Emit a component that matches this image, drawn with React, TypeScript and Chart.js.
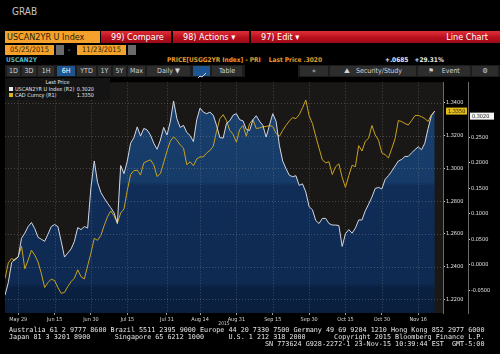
import React, { useEffect, useRef } from "react";
import { Chart, registerables } from "chart.js";

Chart.register(...registerables);

// Business-day index of each x-axis tick (0 = Mon 25 May 2015, 130 = Mon 23 Nov 2015)
const tickDays = [4, 15, 26, 37, 49, 59, 70, 81, 92, 103, 114, 125];
const tickLabels = ["May 29", "Jun 15", "Jun 30", "Jul 15", "Jul 31", "Aug 14", "Aug 31", "Sep 15", "Sep 30", "Oct 15", "Oct 30", "Nov 16"];

// R1 axis (CAD Curncy) and R2 axis (USCAN2YR U Index) tick values
const cadTicks = [1.22, 1.24, 1.26, 1.28, 1.3, 1.32, 1.34];
const spreadTicks = [-0.05, 0, 0.05, 0.1, 0.15, 0.2, 0.25];

// USCAN2YR U Index, daily (R2)
const uscan2y = [
  -0.06, -0.035, 0.004, 0.011, 0.015, 0.052, 0.062, 0.075, 0.083, 0.071,
  0.054, 0.05, 0.046, 0.06, 0.075, 0.079, 0.075, 0.046, 0.015, 0.023,
  0.031, 0.046, 0.073, 0.069, 0.075, 0.072, 0.152, 0.204, 0.162, 0.142,
  0.131, 0.121, 0.112, 0.102, 0.081, 0.195, 0.179, 0.204, 0.239, 0.25,
  0.271, 0.253, 0.268, 0.265, 0.255, 0.239, 0.227, 0.245, 0.27, 0.255,
  0.281, 0.322, 0.287, 0.27, 0.274, 0.26, 0.254, 0.242, 0.285, 0.308,
  0.3, 0.297, 0.3, 0.294, 0.274, 0.25, 0.249, 0.278, 0.283, 0.294,
  0.297, 0.285, 0.283, 0.266, 0.264, 0.285, 0.293, 0.282, 0.274, 0.251,
  0.274, 0.297, 0.282, 0.235, 0.204, 0.189, 0.176, 0.173, 0.175, 0.156,
  0.159, 0.143, 0.114, 0.108, 0.087, 0.081, 0.091, 0.091, 0.081, 0.078,
  0.078, 0.077, 0.036, 0.061, 0.069, 0.062, 0.072, 0.088, 0.088, 0.106,
  0.119, 0.133, 0.15, 0.152, 0.149, 0.168, 0.175, 0.184, 0.194, 0.204,
  0.207, 0.213, 0.213, 0.22, 0.226, 0.232, 0.226, 0.239, 0.268, 0.293,
  0.302,
];

// CAD Curncy, daily (R1)
const cadCurncy = [
  1.2326, 1.2422, 1.2449, 1.2437, 1.2461, 1.2524, 1.2386, 1.244, 1.25, 1.247,
  1.2428, 1.2356, 1.2272, 1.2302, 1.2323, 1.2314, 1.2272, 1.2236, 1.2242, 1.2278,
  1.2308, 1.2329, 1.238, 1.2338, 1.2324, 1.2404, 1.2482, 1.2572, 1.256, 1.259,
  1.265, 1.2704, 1.274, 1.271, 1.2665, 1.2728, 1.2752, 1.2866, 1.2962, 1.2986,
  1.2989, 1.2959, 1.3034, 1.3044, 1.3052, 1.3022, 1.295, 1.2968, 1.3034, 1.3106,
  1.3166, 1.3193, 1.3172, 1.3144, 1.3124, 1.3022, 1.304, 1.3016, 1.3058, 1.307,
  1.307, 1.3094, 1.3109, 1.3136, 1.3226, 1.3304, 1.3328, 1.3292, 1.3232, 1.3208,
  1.316, 1.3238, 1.3262, 1.3196, 1.3274, 1.3298, 1.3244, 1.3247, 1.3254, 1.3256,
  1.3262, 1.3256, 1.3214, 1.3196, 1.3232, 1.3262, 1.3289, 1.331, 1.3304, 1.3328,
  1.337, 1.3418, 1.3322, 1.3274, 1.3196, 1.3124, 1.3052, 1.3034, 1.304, 1.2962,
  1.301, 1.3028, 1.2944, 1.2884, 1.2956, 1.3019, 1.301, 1.3139, 1.3106, 1.3166,
  1.3184, 1.3262, 1.3204, 1.3172, 1.3094, 1.3084, 1.3064, 1.3121, 1.3181, 1.3292,
  1.3286, 1.3274, 1.3265, 1.3292, 1.3322, 1.3324, 1.3316, 1.3304, 1.3286, 1.3328,
  1.335,
];

const SANS = '"DejaVu Sans Condensed", "DejaVu Sans", "Liberation Sans", sans-serif';
const MONO = '"DejaVu Sans Mono", "Liberation Mono", monospace';

const panelPlugin = {
  id: "bbPanel",
  beforeDraw(chart: any) {
    const { ctx, chartArea: ca, width, height } = chart;
    ctx.save();
    ctx.fillStyle = "#000";
    ctx.fillRect(0, 0, width, height);
    ctx.fillStyle = "#1a1816";
    ctx.fillRect(ca.left, ca.top, ca.right - ca.left, ca.bottom - ca.top);
    ctx.restore();
  },
};

const gridPlugin = {
  id: "bbGrid",
  beforeDatasetsDraw(chart: any) {
    const { ctx, chartArea: ca, scales } = chart;
    ctx.save();
    ctx.strokeStyle = "rgba(150,150,150,0.38)";
    ctx.lineWidth = 1;
    ctx.setLineDash([1, 2]);
    scales.x.ticks.forEach((t: any) => {
      const px = Math.round(scales.x.getPixelForValue(t.value)) + 0.5;
      ctx.beginPath();
      ctx.moveTo(px, ca.top);
      ctx.lineTo(px, ca.bottom);
      ctx.stroke();
    });
    scales.y.ticks.forEach((t: any) => {
      const py = Math.round(scales.y.getPixelForValue(t.value)) + 0.5;
      ctx.beginPath();
      ctx.moveTo(ca.left, py);
      ctx.lineTo(ca.right, py);
      ctx.stroke();
    });
    ctx.restore();
  },
};

const lastBoxPlugin = {
  id: "bbLast",
  afterDraw(chart: any) {
    const { ctx, scales } = chart;
    const cadLast = cadCurncy[cadCurncy.length - 1];
    const spLast = uscan2y[uscan2y.length - 1];
    const y1 = scales.y.getPixelForValue(cadLast);
    const y2 = scales.y2.getPixelForValue(spLast) + 5;
    ctx.save();
    ctx.font = `5.5px ${SANS}`;
    ctx.textBaseline = "middle";
    ctx.fillStyle = "#e2bc1c";
    ctx.fillRect(scales.y.left + 3, y1 - 3.5, 21, 7);
    ctx.fillStyle = "#1a1a1a";
    ctx.fillText(cadLast.toFixed(4), scales.y.left + 5, y1 + 0.5);
    ctx.fillStyle = "#f2f2f2";
    ctx.fillRect(scales.y2.left + 2, y2 - 3.5, 24, 7);
    ctx.fillStyle = "#1a1a1a";
    ctx.fillText(spLast.toFixed(4), scales.y2.left + 4, y2 + 0.5);
    ctx.restore();
  },
};

function ChartView() {
  const ref = useRef<HTMLCanvasElement | null>(null);
  useEffect(() => {
    if (!ref.current) return;
    const chart = new Chart(ref.current, {
      type: "line",
      data: {
        datasets: [
          {
            label: "USCAN2YR U Index (R2)",
            data: uscan2y.map((v, i) => ({ x: i, y: v })),
            yAxisID: "y2",
            borderColor: "#d2d6e0",
            borderWidth: 1,
            pointRadius: 0,
            tension: 0,
            fill: "start",
            backgroundColor: (c: any) => {
              const ca = c.chart.chartArea;
              if (!ca) return "#143a66";
              const g = c.chart.ctx.createLinearGradient(0, ca.top, 0, ca.bottom);
              g.addColorStop(0, "#1a406e");
              g.addColorStop(0.43, "#163b68");
              g.addColorStop(0.45, "#102d58");
              g.addColorStop(0.87, "#0e2a52");
              g.addColorStop(0.89, "#0a2142");
              g.addColorStop(1, "#091e3c");
              return g;
            },
          },
          {
            label: "CAD Curncy (R1)",
            data: cadCurncy.map((v, i) => ({ x: i, y: v })),
            yAxisID: "y",
            borderColor: "#c9a21e",
            borderWidth: 1,
            pointRadius: 0,
            tension: 0,
            fill: false,
          },
        ],
      },
      options: {
        animation: false,
        responsive: false,
        devicePixelRatio: 1,
        layout: { padding: { left: 5, right: 0, top: 0, bottom: 0 } },
        plugins: {
          legend: { display: false },
          tooltip: { enabled: false },
          filler: { drawTime: "beforeDatasetsDraw" },
        } as any,
        scales: {
          x: {
            type: "linear",
            min: 0,
            max: 132.5,
            afterBuildTicks: (s: any) => {
              s.ticks = tickDays.map((v) => ({ value: v }));
            },
            afterFit: (s: any) => {
              s.height = 14;
            },
            ticks: {
              autoSkip: false,
              maxRotation: 0,
              padding: 1,
              color: "#d8d8d8",
              font: { size: 5.5, family: SANS },
              callback: (v: any) => tickLabels[tickDays.indexOf(v)] ?? "",
            },
            grid: { drawOnChartArea: false, tickLength: 2, color: "#9a9a9a" },
            border: { display: false },
            title: { display: true, text: "2015", color: "#cfcfcf", font: { size: 5, family: SANS }, padding: 0 },
          },
          y: {
            type: "linear",
            position: "right",
            weight: 1,
            min: 1.2116,
            max: 1.3526,
            afterBuildTicks: (s: any) => {
              s.ticks = cadTicks.map((v) => ({ value: v }));
            },
            afterFit: (s: any) => {
              s.width = 25;
            },
            ticks: {
              padding: 1,
              color: "#e4e4e4",
              font: { size: 5.5, family: SANS },
              callback: (v: any) => Number(v).toFixed(4),
            },
            grid: { drawOnChartArea: false, tickLength: 2, color: "#d0d0d0" },
            border: { display: true, color: "#6a6a6a" },
          },
          y2: {
            type: "linear",
            position: "right",
            weight: 2,
            min: -0.095,
            max: 0.3587,
            afterBuildTicks: (s: any) => {
              s.ticks = spreadTicks.map((v) => ({ value: v }));
            },
            afterFit: (s: any) => {
              s.width = 32;
            },
            ticks: {
              padding: 1,
              color: "#e4e4e4",
              font: { size: 5.5, family: SANS },
              callback: (v: any) => Number(v).toFixed(4),
            },
            grid: { drawOnChartArea: false, tickLength: 2, color: "#d0d0d0" },
            border: { display: true, color: "#6a6a6a" },
          },
        },
      },
      plugins: [panelPlugin, gridPlugin, lastBoxPlugin],
    } as any);
    return () => chart.destroy();
  }, []);
  return (
    <canvas
      ref={ref}
      width={500}
      height={249}
      style={{ position: "absolute", left: 0, top: 78, width: 500, height: 249 }}
    />
  );
}

const abs = (left: number, top: number, width: number, height: number, extra: any = {}) => ({
  position: "absolute" as const,
  left,
  top,
  width,
  height,
  ...extra,
});

function Btn({ x, w, children, bg, color }: any) {
  return (
    <div
      style={abs(x, 66, w, 10, {
        background: bg || "#2d2d2d",
        color: color || "#d4d4d4",
        fontSize: 7,
        lineHeight: "10px",
        textAlign: "center",
        fontFamily: SANS,
        whiteSpace: "nowrap",
        overflow: "hidden",
      })}
    >
      {children}
    </div>
  );
}

const redBar = "linear-gradient(#e0303a, #b80f1c 55%, #9c0a16)";

export default function App() {
  return (
    <div style={{ position: "fixed", left: 0, top: 0, width: 500, height: 354, background: "#000", overflow: "hidden", fontFamily: SANS }}>
      <div style={abs(12, 6, 40, 12, { color: "#c4c4c4", fontSize: 10, lineHeight: "12px" })}>GRAB</div>

      {/* security row */}
      <div style={abs(5, 31, 95, 12, { background: "#f4a22c", color: "#2a1c08", fontSize: 9, lineHeight: "12px", paddingLeft: 2, boxSizing: "border-box" })}>
        USCAN2YR U Index
      </div>
      <div style={abs(101, 31, 70, 12, { background: redBar, color: "#fff", fontSize: 9, lineHeight: "12px", paddingLeft: 10, boxSizing: "border-box" })}>
        99) Compare
      </div>
      <div style={abs(173, 31, 76, 12, { background: redBar, color: "#fff", fontSize: 9, lineHeight: "12px", paddingLeft: 10, boxSizing: "border-box" })}>
        98) Actions ▾
      </div>
      <div style={abs(251, 31, 249, 12, { background: redBar, color: "#fff", fontSize: 9, lineHeight: "12px", paddingLeft: 10, boxSizing: "border-box" })}>
        97) Edit ▾
        <span style={{ position: "absolute", right: 12, top: 0 }}>Line Chart</span>
      </div>

      {/* date row */}
      <div style={abs(5, 45, 49, 10, { background: "#f4a22c", color: "#2a1c08", fontSize: 7.5, lineHeight: "10px", textAlign: "center" })}>05/25/2015</div>
      <div style={abs(56, 45, 8, 10, { background: "#6a6a6a" })} />
      <div style={abs(68, 45, 6, 10, { color: "#ddd", fontSize: 7, lineHeight: "10px" })}>-</div>
      <div style={abs(77, 45, 49, 10, { background: "#f4a22c", color: "#2a1c08", fontSize: 7.5, lineHeight: "10px", textAlign: "center" })}>11/23/2015</div>
      <div style={abs(128, 45, 8, 10, { background: "#6a6a6a" })} />

      {/* info row */}
      <div style={abs(6, 56, 60, 9, { color: "#5cb8c4", fontSize: 6.5, fontWeight: "bold", lineHeight: "9px" })}>USCAN2Y</div>
      <div style={abs(167, 56, 190, 9, { color: "#e89a2c", fontSize: 6.5, fontWeight: "bold", lineHeight: "9px", whiteSpace: "pre" })}>
        {"PRICE[USGG2YR Index] - PRI    Last Price .3020"}
      </div>
      <div style={abs(385, 56, 70, 9, { color: "#e8e8e8", fontSize: 6.5, fontWeight: "bold", lineHeight: "9px", whiteSpace: "pre" })}>
        {"+.0685   +29.31%"}
      </div>

      {/* toolbar row */}
      <div style={abs(5, 65, 240, 12, { background: "#1c1c1c" })} />
      <div style={abs(298, 65, 202, 12, { background: "#1c1c1c" })} />
      <Btn x={7} w={13}>1D</Btn>
      <Btn x={22} w={14}>3D</Btn>
      <Btn x={38} w={16}>1H</Btn>
      <Btn x={57} w={18} bg="#1d5590" color="#fff">6H</Btn>
      <Btn x={77} w={19}>YTD</Btn>
      <Btn x={98} w={13}>1Y</Btn>
      <Btn x={113} w={13}>5Y</Btn>
      <Btn x={128} w={17}>Max</Btn>
      <Btn x={147} w={43}>Daily ▼</Btn>
      <div style={abs(193, 66, 17, 10, { background: "#1d5590" })}>
        <svg width="17" height="10">
          <polyline points="4,8 7,5 9,6 13,2" fill="none" stroke="#cfe0f4" strokeWidth="1" />
          <line x1="3" y1="8.5" x2="14" y2="8.5" stroke="#cfe0f4" strokeWidth="0.8" />
        </svg>
      </div>
      <Btn x={212} w={30}>Table</Btn>
      <Btn x={300} w={28}>«</Btn>
      <Btn x={330} w={86}>
        <span style={{ marginRight: 6 }}>⛰</span>Security/Study
      </Btn>
      <Btn x={418} w={52}>
        <span style={{ marginRight: 8 }}>⚑</span>Event
      </Btn>
      <Btn x={472} w={26}>⚙</Btn>

      <ChartView />

      {/* legend */}
      <div style={abs(5, 78, 105, 22, { background: "#141414", color: "#e6e6e6", fontSize: 5.5, lineHeight: "6.5px" })}>
        <div style={{ textAlign: "center", marginTop: 1 }}>Last Price</div>
        <div style={{ position: "relative", height: 6.5 }}>
          <span style={{ position: "absolute", left: 4, top: 1, width: 4, height: 4, background: "#e8e8e8" }} />
          <span style={{ position: "absolute", left: 10, top: 0 }}>USCAN2YR U Index  (R2)</span>
          <span style={{ position: "absolute", right: 16, top: 0 }}>0.3020</span>
        </div>
        <div style={{ position: "relative", height: 6.5 }}>
          <span style={{ position: "absolute", left: 4, top: 1, width: 4, height: 4, background: "#d9b21e" }} />
          <span style={{ position: "absolute", left: 10, top: 0 }}>CAD Curncy  (R1)</span>
          <span style={{ position: "absolute", right: 16, top: 0 }}>1.3350</span>
        </div>
      </div>

      {/* footer */}
      <pre style={abs(9, 327, 490, 24, { margin: 0, color: "#e6e6e6", fontFamily: MONO, fontSize: 6.75, lineHeight: "6.8px" })}>
{`Australia 61 2 9777 8600 Brazil 5511 2395 9000 Europe 44 20 7330 7500 Germany 49 69 9204 1210 Hong Kong 852 2977 6000
Japan 81 3 3201 8900      Singapore 65 6212 1000      U.S. 1 212 318 2000       Copyright 2015 Bloomberg Finance L.P.
                                                               SN 773624 G928-2272-1 23-Nov-15 10:39:44 EST  GMT-5:00`}
      </pre>
    </div>
  );
}
